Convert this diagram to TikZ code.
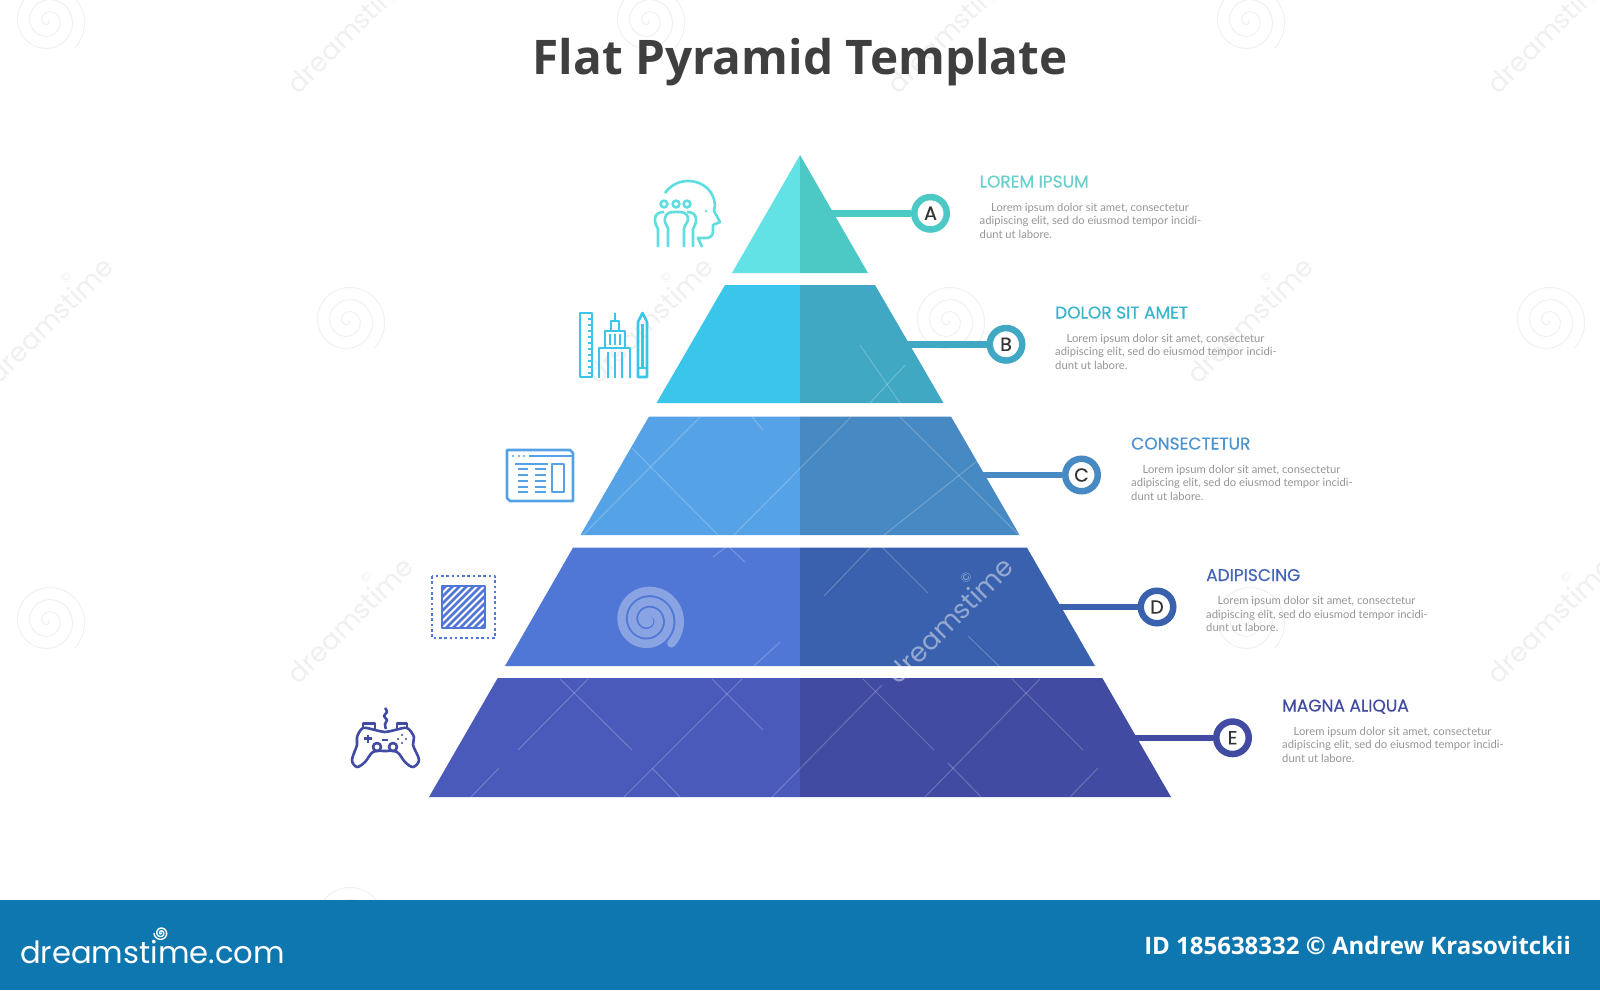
\documentclass[tikz,border=0pt]{standalone}
\usepackage{fontspec}
\usetikzlibrary{positioning}
\newfontfamily\headfont{Poppins}[FakeBold=0.4]
\newfontfamily\markfont{Poppins}
\newfontfamily\bodyfont{Lato}
\newfontfamily\titlefont{Open Sans}
\definecolor{tierAl}{HTML}{62E2E4}
\definecolor{tierAr}{HTML}{4DC9C5}
\definecolor{tierBl}{HTML}{3AC6EB}
\definecolor{tierBr}{HTML}{41A8C4}
\definecolor{tierCl}{HTML}{55A3E6}
\definecolor{tierCr}{HTML}{4789C2}
\definecolor{tierDl}{HTML}{5077D6}
\definecolor{tierDr}{HTML}{3A61AD}
\definecolor{tierEl}{HTML}{4A5ABB}
\definecolor{tierEr}{HTML}{414BA2}
\definecolor{barblue}{HTML}{0F77B0}
\definecolor{titlegray}{HTML}{3F3F3F}
\definecolor{bodygray}{HTML}{969696}
\newcommand{\loremtext}{\hspace*{11.5pt}Lorem ipsum dolor sit amet, consectetur\\adipiscing elit, sed do eiusmod tempor incidi-\\dunt ut labore.}

\begin{document}
\begin{tikzpicture}[
    x=1pt,
    y=-1pt,
    % Styles
    badge/.style={% For the lettered rings
        circle,
        draw,
        fill=white,
        line width=6.5pt,
        minimum size=32.5pt,
        inner sep=0pt,
        text=black!80,
        font=\headfont\fontsize{19}{19}\selectfont,
        },
    link/.style={% From the pyramid to a ring
        line width=6.5pt,
        },
    heading/.style={% Small titles
        anchor=base west,
        inner sep=0pt,
        text depth=0pt,
        font=\headfont\fontsize{17}{18}\selectfont,
        },
    blurb/.style={% Grey text under a title
        anchor=north west,
        align=left,
        inner sep=0pt,
        text=bodygray,
        font=\bodyfont\fontsize{11.25}{13.6}\selectfont,
        },
    icon/.style={% Line icons
        line width=2.6pt,
        line join=round,
        },
    wmfaint/.style={% Mark on the white paper
        gray!12,
        line width=1pt,
        },
    wmover/.style={% Mark on the coloured tiers
        white,
        opacity=.33,
        line width=8.5pt,
        line cap=round,
        },
    wmline/.style={% Thin crossing lines
        white,
        opacity=.22,
        line width=1pt,
        },
    ]

\useasboundingbox (0,0) rectangle (1600,990);
\fill[white] (0,0) rectangle (1600,990);

% Faint marks on the paper
\foreach \px/\py in {50/20,650/20,1250/20,350/320,950/320,1550/320,50/620,1250/620,350/920}
    \draw[wmfaint] plot[domain=0:1125, samples=120, smooth, variable=\t]
        ({\px-2+38*(\t/1125)*cos(\t)},{\py+1+38*(\t/1125)*sin(\t)});
\foreach \px/\py [count=\i] in {350/30,950/30,1550/30,50/320,650/320,1250/320,350/620,1550/620}{
    \node[rotate=45, text=gray!12, font=\markfont\fontsize{26.7}{27}\selectfont] (wmtext\i) at (\px,\py) {dreamstime};
    \node[rotate=45, text=gray!12, font=\markfont\fontsize{13}{13}\selectfont] (wmsign\i) at (\px+16,\py-42) {©};
}

% Draw the tiers, left half then right half
\foreach \ya/\yb/\xa/\xb/\tname in {155/273/800/732/A,285/403/725/656.5/B,416.5/535/649/580.5/C,547.7/666/573/505/D,678/797/497.7/429/E}{
    \fill[tier\tname l] (\xa,\ya) -- (800,\ya) -- (800,\yb) -- (\xb,\yb) -- cycle;
    \fill[tier\tname r] ({1600-\xa},\ya) -- (800,\ya) -- (800,\yb) -- ({1600-\xb},\yb) -- cycle;
}

% Thin lines over the tiers
\foreach \ax/\ay/\bx/\by in {
    560/679/632/750, 588/679/518/750, 712/679/763/730, 742/679/624/797,
    863/679/934/750, 882/685/772/797, 1012/679/1083/750, 1040/679/925/797,
    652/768/680/797, 499/768/471/797, 948/763/981/797, 1098/768/1070/797,
    700/417/583/535, 752/417/763/430, 632/448/718/535, 851/417/734/535,
    900/417/1019/535, 981/458/884/535, 713/557/726/547, 745/562/729/547,
    871/547/824/596, 882/547/928/593, 780/642/754/666, 968/636/999/666,
    860/345/900/403, 870/403/905/365}
    \draw[wmline] (\ax,\ay) -- (\bx,\by);

% Mark on tier D
\draw[wmover] plot[domain=20:1125, samples=120, smooth, variable=\t]
    ({648+33*(\t/1125)*cos(\t)},{620+33*(\t/1125)*sin(\t)});
\node[rotate=45, text=white, opacity=.45, font=\markfont\fontsize{26.7}{27}\selectfont] (wmtier) at (950,620) {dreamstime};
\node[rotate=45, text=white, opacity=.45, font=\markfont\fontsize{13}{13}\selectfont] (wmsign) at (966,578) {©};

% Connectors start just inside the slanted side
\coordinate (startA) at (830,213.3);
\coordinate (startB) at (906,344.3);
\coordinate (startC) at (982,475);
\coordinate (startD) at (1058,607);
\coordinate (startE) at (1134,737.8);

% Draw the rings named as basis ringA...ringE
\node[badge, draw=tierAr] (ringA) at (930.5,213.3) {A};
\node[badge, draw=tierBr] (ringB) at (1006,344.3) {B};
\node[badge, draw=tierCr] (ringC) at (1081.5,475) {C};
\node[badge, draw=tierDr] (ringD) at (1157,607) {D};
\node[badge, draw=tierEr] (ringE) at (1232.5,737.8) {E};

\draw[link, tierAr] (startA) -- (ringA);
\draw[link, tierBr] (startB) -- (ringB);
\draw[link, tierCr] (startC) -- (ringC);
\draw[link, tierDr] (startD) -- (ringD);
\draw[link, tierEr] (startE) -- (ringE);

% Titles and text beside the rings
\node[heading, text=tierAr!85!white] (headA) at (979.5,187.5) {LOREM IPSUM};
\node[heading, text=tierBr!85!cyan] (headB) at (1055,318.5) {DOLOR SIT AMET};
\node[heading, text=tierCl!90!black] (headC) at (1131,449.5) {CONSECTETUR};
\node[heading, text=tierDl!85!black] (headD) at (1206,581) {ADIPISCING};
\node[heading, text=tierEr] (headE) at (1282,711.5) {MAGNA ALIQUA};

\node[blurb, below=15pt of headA.south west, anchor=north west] (textA) {\loremtext};
\node[blurb, below=15pt of headB.south west, anchor=north west] (textB) {\loremtext};
\node[blurb, below=15pt of headC.south west, anchor=north west] (textC) {\loremtext};
\node[blurb, below=15pt of headD.south west, anchor=north west] (textD) {\loremtext};
\node[blurb, below=15pt of headE.south west, anchor=north west] (textE) {\loremtext};

% Icon of tier A: head with three people
\begin{scope}[icon, tierAl!85!tierAr]
    \draw (665,193) .. controls (670,186) and (678,181) .. (688,181)
        .. controls (703,181) and (714,191) .. (715,205)
        -- (714,211) -- (720,222) -- (713,225) -- (713,231)
        .. controls (713,236) and (710,238) .. (706,238) -- (698,238) -- (702,247);
    \fill (706,211) circle (1.3);
    \draw (664,204) circle (3.4);
    \draw (676,204) circle (3.4);
    \draw (687,204) circle (3.4);
    \draw (668,247) -- (668,228) .. controls (666,224) and (664,222) .. (665,218)
        .. controls (666,213) and (670,212) .. (674,212) -- (680,212)
        .. controls (685,212) and (688,215) .. (688,219)
        .. controls (688,223) and (684,225) .. (684,229) -- (684,247);
    \draw (658,247) -- (658,229) .. controls (656,226) and (655,223) .. (655,219)
        .. controls (655,214) and (659,212) .. (664,212);
    \draw (693,247) -- (693,229) .. controls (695,226) and (696,223) .. (696,219)
        .. controls (696,214) and (692,212) .. (687,212);
\end{scope}

% Icon of tier B: ruler, tower, pencil
\begin{scope}[icon, tierBl]
    \draw (580,313) rectangle (592,377);
    \foreach \ty in {319,325,...,373}
        \draw (591,\ty) -- (588,\ty);
    \draw (599,378) -- (599,348) -- (630,348) -- (630,378);
    \draw (608,352) -- (608,378);
    \draw (615,352) -- (615,378);
    \draw (622,352) -- (622,378);
    \draw (605,348) -- (605,331) -- (625,331) -- (625,348);
    \draw (610,334) -- (610,345);
    \draw (615,334) -- (615,345);
    \draw (620,334) -- (620,345);
    \draw (611,331) -- (611,321) -- (619,321) -- (619,331);
    \draw (615,321) -- (615,313);
    \draw (638,322) -- (642.5,313) -- (647,322) -- (647,377) -- (638,377) -- cycle;
    \draw (642.5,324) -- (642.5,367);
    \draw (638,368) -- (647,368);
\end{scope}

% Icon of tier C: window with table
\begin{scope}[icon, tierCl]
    \draw (507,450) -- (570,450) -- (573,453) -- (573,501) -- (510,501) -- (507,498) -- cycle;
    \foreach \dx in {513,519,524}
        \fill (\dx,456) circle (1.1);
    \draw (529,456) -- (573,456);
    \draw (515,464) -- (548,464);
    \draw (552,464) rectangle (564,492);
    \foreach \ry in {469,475,481,487,492}{
        \draw (518,\ry) -- (528,\ry);
        \draw (535,\ry) -- (546,\ry);
    }
\end{scope}

% Icon of tier D: hatched square in a dotted frame
\begin{scope}[icon, tierDl]
    \draw[dash pattern=on 2.6pt off 2.7pt] (432,576) rectangle (495,638);
    \draw (442,586) rectangle (485,628);
    \begin{scope}
        \clip (442,586) rectangle (485,628);
        \foreach \hx in {448,455,...,525}
            \draw (\hx,584) -- (\hx-46,630);
    \end{scope}
\end{scope}

% Icon of tier E: game pad
\begin{scope}[icon, tierEr]
    \draw plot[smooth cycle, tension=.55] coordinates {(363,728) (375,730) (385,732) (395,730) (407,728) (414,737)
        (413,745) (419,760) (413,767) (405,762) (397,752) (385,751) (373,752) (365,762) (357,767) (352,760) (357,745) (357,737)};
    \draw (363,727) -- (363,723.5) -- (375,723.5) -- (375,729);
    \draw (397,729) -- (397,723.5) -- (407,723.5) -- (407,727);
    \draw plot[smooth, tension=.8] coordinates {(385,708) (387,712) (384,716) (387,720) (385,724) (386,729)};
    \draw (364,738.5) -- (372,738.5);
    \draw (368,734.5) -- (368,742.5);
    \draw (382,740) -- (388,740);
    \foreach \bx/\by in {402/735,402/743,398/739,406/739}
        \fill (\bx,\by) circle (1.2);
    \draw[fill=white] (377,747) circle (4);
    \draw[fill=white] (393,747) circle (4);
\end{scope}

% Title
\node[text=titlegray, font=\titlefont\bfseries\fontsize{47.7}{50}\selectfont] (title) at (800,62) {Flat Pyramid Template};

% Bottom bar
\fill[barblue] (0,900) rectangle (1600,990);
\node[anchor=base west, inner sep=0pt, text=white, font=\markfont\fontsize{30.6}{33}\selectfont] (logo) at (20,963) {dreamstime.com};
\draw[white, line width=1.4pt] plot[domain=0:900, samples=60, smooth, variable=\t]
    ({161+7*(\t/900)*cos(\t)},{933+7*(\t/900)*sin(\t)});
\node[anchor=base east, inner sep=0pt, text=white, font=\titlefont\bfseries\fontsize{24}{24}\selectfont] (credit) at (1571,954.5) {ID 185638332 © Andrew Krasovitckii};

\end{tikzpicture}
\end{document}
